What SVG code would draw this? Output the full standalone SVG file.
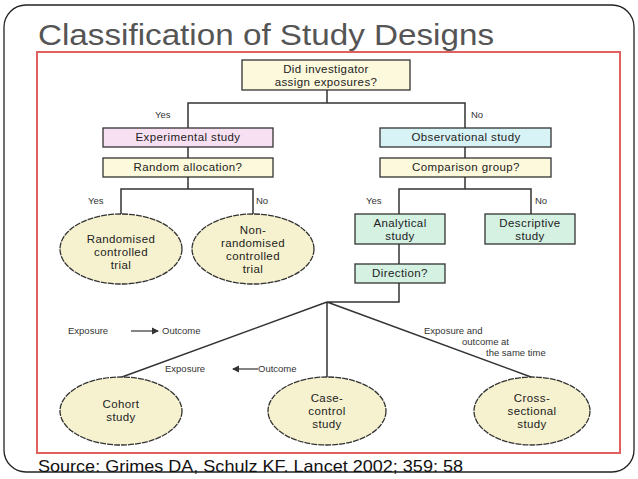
<svg xmlns="http://www.w3.org/2000/svg" width="638" height="479" viewBox="0 0 638 479">
<style>
.b{stroke:#333;stroke-width:1.3}
.t{font-family:"Liberation Sans",Arial,sans-serif;font-size:11.5px;fill:#222;text-anchor:middle;letter-spacing:0.4px}
.s{font-family:"Liberation Sans",Arial,sans-serif;font-size:9.5px;fill:#333}
.c{fill:none;stroke:#333;stroke-width:1.5}
.y{fill:#fcf9dc}.p{fill:#f8e0f3}.q{fill:#d8f3f6}.g{fill:#d4f1e2}.e{fill:#f6f2cf}
</style>
<defs><marker id="a" markerWidth="6" markerHeight="6" refX="5" refY="3" orient="auto"><path d="M0,0L6,3L0,6z" fill="#333"/></marker></defs>
<rect width="638" height="479" fill="#fff"/>
<rect x="4" y="5" width="630" height="467" rx="22" fill="none" stroke="#222" stroke-width="1.3"/>
<text x="38" y="45" font-family="Liberation Sans,Arial,sans-serif" font-size="30" fill="#555" textLength="456" lengthAdjust="spacingAndGlyphs">Classification of Study Designs</text>
<rect x="37" y="52" width="583" height="401" fill="#fff" stroke="#e06060" stroke-width="2"/>
<text x="38" y="472" font-family="Liberation Sans,Arial,sans-serif" font-size="17" fill="#111" textLength="425" lengthAdjust="spacingAndGlyphs">Source: Grimes DA, Schulz KF.  Lancet 2002; 359: 58</text>
<g id="connectors">
<path class="c" d="M327,90V103M188,128V103H465V128M188,147V158M465,147V158M188,177V189H121V214M188,189H253V214M465,177V189H399V214M465,189H531V214M399,244V264M399,283V302H327M327,302L122,377M327,302V377M327,302L531,377"/>
</g>
<g id="n1"><rect class="b y" x="242" y="60" width="168" height="30"/><text class="t" x="326" y="73">Did investigator</text><text class="t" x="326" y="86">assign exposures?</text></g>
<g id="lbl"><text class="s" x="155" y="118">Yes</text><text class="s" x="471" y="118">No</text>
<text class="s" x="88" y="204">Yes</text><text class="s" x="256" y="204">No</text>
<text class="s" x="366" y="204">Yes</text><text class="s" x="535" y="204">No</text>
<text class="s" x="68" y="334">Exposure</text><path d="M131,331H158" stroke="#333" stroke-width="1.2" marker-end="url(#a)"/><text class="s" x="162" y="334">Outcome</text>
<text class="s" x="165" y="372">Exposure</text><path d="M258,369H233" stroke="#333" stroke-width="1.2" marker-end="url(#a)"/><text class="s" x="258" y="372">Outcome</text>
<text class="s" x="424" y="334">Exposure and</text><text class="s" x="462" y="345">outcome at</text><text class="s" x="486" y="356">the same time</text></g>
<g id="n2"><rect class="b p" x="103" y="128" width="170" height="19"/><text class="t" x="188" y="141">Experimental study</text></g>
<g id="n3"><rect class="b q" x="380" y="128" width="171" height="19"/><text class="t" x="466" y="141">Observational study</text></g>
<g id="n4"><rect class="b y" x="103" y="158" width="170" height="19"/><text class="t" x="188" y="171">Random allocation?</text></g>
<g id="n5"><rect class="b y" x="380" y="158" width="171" height="19"/><text class="t" x="466" y="171">Comparison group?</text></g>
<g id="n6"><ellipse class="b e" cx="121" cy="249" rx="61" ry="35" stroke-dasharray="6 1"/><text class="t" x="121" y="243">Randomised</text><text class="t" x="121" y="256">controlled</text><text class="t" x="121" y="269">trial</text></g>
<g id="n7"><ellipse class="b e" cx="253" cy="249" rx="61" ry="35" stroke-dasharray="6 1"/><text class="t" x="253" y="234">Non-</text><text class="t" x="253" y="247">randomised</text><text class="t" x="253" y="260">controlled</text><text class="t" x="253" y="273">trial</text></g>
<g id="n8"><rect class="b g" x="355" y="214" width="90" height="30"/><text class="t" x="400" y="227">Analytical</text><text class="t" x="400" y="240">study</text></g>
<g id="n9"><rect class="b g" x="485" y="214" width="90" height="30"/><text class="t" x="530" y="227">Descriptive</text><text class="t" x="530" y="240">study</text></g>
<g id="n10"><rect class="b g" x="355" y="264" width="90" height="19"/><text class="t" x="400" y="277">Direction?</text></g>
<g id="n11"><ellipse class="b e" cx="121" cy="411" rx="61" ry="34" stroke-dasharray="6 1"/><text class="t" x="121" y="408">Cohort</text><text class="t" x="121" y="421">study</text></g>
<g id="n12"><ellipse class="b e" cx="327" cy="411" rx="59" ry="34" stroke-dasharray="6 1"/><text class="t" x="327" y="402">Case-</text><text class="t" x="327" y="415">control</text><text class="t" x="327" y="428">study</text></g>
<g id="n13"><ellipse class="b e" cx="532" cy="411" rx="58" ry="34" stroke-dasharray="6 1"/><text class="t" x="532" y="402">Cross-</text><text class="t" x="532" y="415">sectional</text><text class="t" x="532" y="428">study</text></g>
</svg>
